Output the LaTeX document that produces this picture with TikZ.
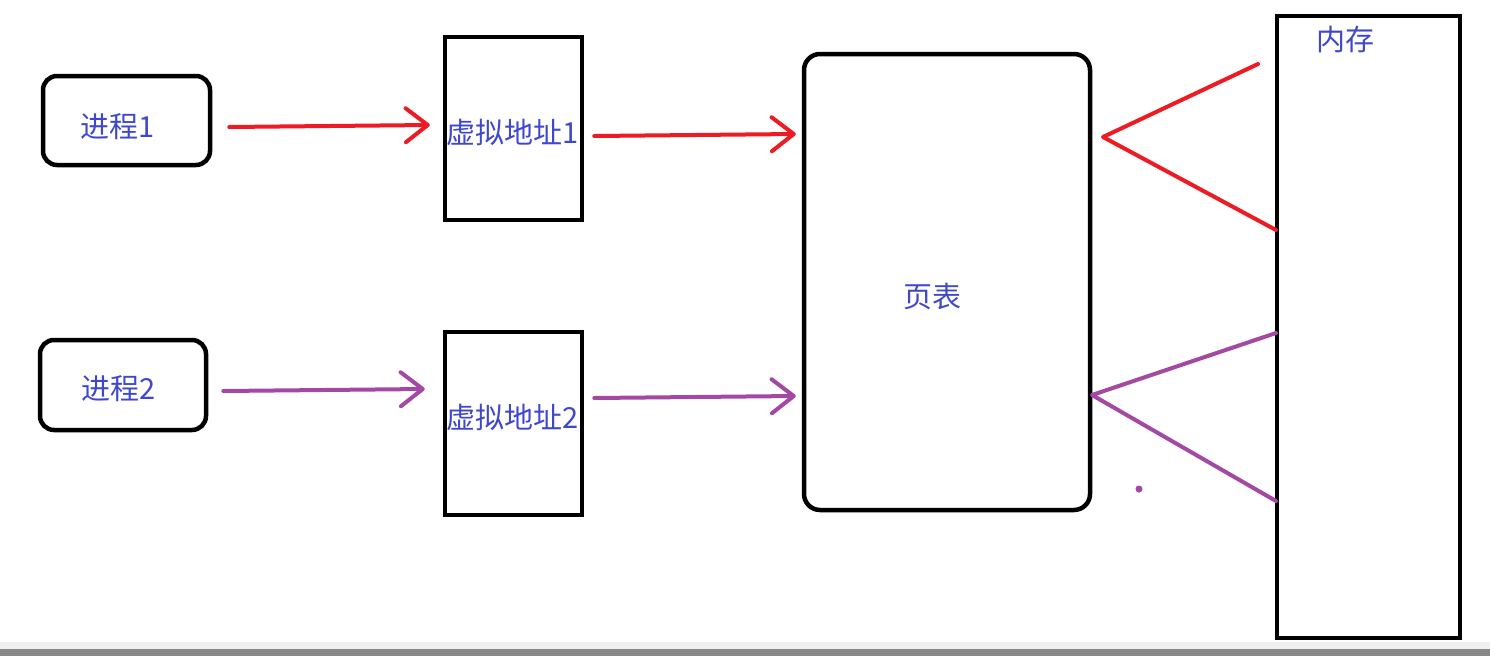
\documentclass[tikz,border=0pt]{standalone}
\usepackage{fontspec}
\setmainfont{Noto Sans CJK SC}
\usetikzlibrary{arrows.meta}
\definecolor{pred}{HTML}{ED1C24}
\definecolor{ppurple}{HTML}{A349A4}
\definecolor{ptext}{HTML}{3F48CC}
\definecolor{barlight}{HTML}{F0F0F0}
\definecolor{bardark}{HTML}{888888}
\begin{document}
\begin{tikzpicture}[x=1pt,y=-1pt,
  box/.style={draw=black, line width=4.5pt, inner sep=0pt},
  procbox/.style={box, rounded corners=14pt},
  lbl/.style={text=ptext, font=\fontsize{29pt}{33pt}\selectfont, inner sep=0pt},
  redarr/.style={draw=pred, line width=4pt, line cap=round, -{Straight Barb[length=22pt,width=34pt,round]}},
  purparr/.style={draw=ppurple, line width=4pt, line cap=round, -{Straight Barb[length=22pt,width=34pt,round]}},
  redline/.style={draw=pred, line width=4pt, line cap=round, line join=round},
  purpline/.style={draw=ppurple, line width=4pt, line cap=round, line join=round}]
\useasboundingbox (0,0) rectangle (1490,656);
\fill[white] (0,0) rectangle (1490,656);
\fill[barlight] (0,642) rectangle (1490,649);
\fill[bardark] (0,649) rectangle (1490,656);

% boxes
\node[procbox, minimum width=167pt, minimum height=89pt] (p1) at (126.5,120.5) {};
\node[procbox, minimum width=166pt, minimum height=90pt] (p2) at (123,385) {};
\node[box, minimum width=137pt, minimum height=183pt] (v1) at (513.5,128.5) {};
\node[box, minimum width=137pt, minimum height=183pt] (v2) at (513.5,423.5) {};
\node[procbox, rounded corners=16pt, minimum width=286pt, minimum height=456pt] (pt) at (947,282) {};
\node[box, minimum width=183pt, minimum height=622pt] (mem) at (1368.5,327) {};

% labels
\node[lbl] (t1) at (118,127) {进程1};
\node[lbl] (t2) at (119,389) {进程2};
\node[lbl] (t3) at (513,132) {虚拟地址1};
\node[lbl] (t4) at (513,417) {虚拟地址2};
\node[lbl] (t5) at (932,297) {页表};
\node[lbl] (t6) at (1345,40) {内存};

% arrows
\draw[redarr] ([xshift=17pt,yshift=-6.5pt]p1.east) -- ([xshift=-13pt,yshift=3.5pt]v1.west);
\draw[redarr] ([xshift=10pt,yshift=-7.5pt]v1.east) -- ([xshift=-6pt,yshift=148pt]pt.west);
\draw[purparr] ([xshift=15pt,yshift=-6pt]p2.east) -- ([xshift=-18pt,yshift=34.5pt]v2.west);
\draw[purparr] ([xshift=10pt,yshift=25.5pt]v2.east) -- ([xshift=-6pt,yshift=-114pt]pt.west);

% memory to page table lines
\coordinate (ra) at (1258,64);
\coordinate (rb) at (1103,137);
\coordinate (rc) at (1276,230);
\draw[redline] (ra) -- (rb) -- (rc);
\coordinate (pa) at (1276,333);
\coordinate (pb) at (1092,395);
\coordinate (pc) at (1276,501);
\draw[purpline] (pa) -- (pb) -- (pc);
\fill[ppurple] (1139,489) circle (3.5pt);
\end{tikzpicture}
\end{document}
